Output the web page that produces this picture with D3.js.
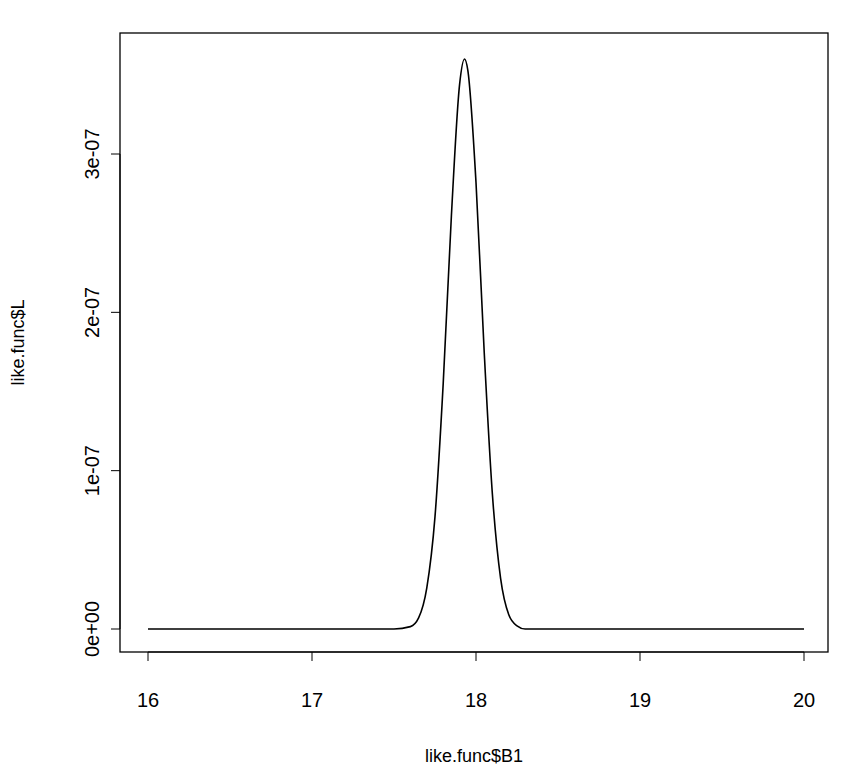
<!DOCTYPE html>
<html><head><meta charset="utf-8">
<script src="https://cdn.jsdelivr.net/npm/d3@7"></script>
<style>body{margin:0;background:#fff}text{font-family:"Liberation Sans",Arial,sans-serif;fill:#000}</style>
</head><body><svg id="c" width="867" height="767"></svg>
<script>
// B1 values and likelihood L
const b1Values = [16, 17.5, 17.6, 17.65, 17.7, 17.75, 17.8, 17.85, 17.9, 17.93, 17.95, 18.0, 18.05, 18.1, 18.15, 18.2, 18.25, 18.3, 20];
const likeValues = [0, 0, 0.015e-7, 0.07e-7, 0.26e-7, 0.71e-7, 1.55e-7, 2.61e-7, 3.44e-7, 3.6e-7, 3.53e-7, 2.82e-7, 1.75e-7, 0.85e-7, 0.32e-7, 0.09e-7, 0.02e-7, 0, 0];
const xTicks = [16, 17, 18, 19, 20];
const yTicks = [0, 1e-7, 2e-7, 3e-7];
const yTickLabels = ["0e+00", "1e-07", "2e-07", "3e-07"];

const svg = d3.select('#c');
const box = {left: 120, right: 828, top: 33, bottom: 652};
const x = d3.scaleLinear().domain([16, 20]).range([148, 804]);
const y = d3.scaleLinear().domain([0, 3e-7]).range([629, 154]);

// curve
const pts = b1Values.map((v, i) => [v, likeValues[i]]);
svg.append('path')
  .attr('d', d3.line().x(d => x(d[0])).y(d => y(d[1])).curve(d3.curveMonotoneX)(pts))
  .attr('fill', 'none').attr('stroke', '#000').attr('stroke-width', 1.6);

// box
svg.append('rect').attr('x', box.left).attr('y', box.top)
  .attr('width', box.right - box.left).attr('height', box.bottom - box.top)
  .attr('fill', 'none').attr('stroke', '#000').attr('stroke-width', 1.3);

// x axis
const gx = svg.append('g');
gx.append('line').attr('x1', x(16)).attr('x2', x(20)).attr('y1', box.bottom).attr('y2', box.bottom).attr('stroke', '#000');
xTicks.forEach(t => {
  gx.append('line').attr('x1', x(t)).attr('x2', x(t)).attr('y1', box.bottom).attr('y2', box.bottom + 9).attr('stroke', '#000');
  gx.append('text').attr('x', x(t)).attr('y', 707).attr('text-anchor', 'middle').attr('font-size', 20).text(t);
});

// y axis
const gy = svg.append('g');
gy.append('line').attr('x1', box.left).attr('x2', box.left).attr('y1', y(0)).attr('y2', y(3e-7)).attr('stroke', '#000');
yTicks.forEach((t, i) => {
  gy.append('line').attr('x1', box.left).attr('x2', box.left - 9).attr('y1', y(t)).attr('y2', y(t)).attr('stroke', '#000');
  gy.append('text').attr('transform', `translate(99,${y(t)}) rotate(-90)`)
    .attr('text-anchor', 'middle').attr('font-size', 20).text(yTickLabels[i]);
});

// titles
svg.append('text').attr('x', (box.left + box.right) / 2).attr('y', 762).attr('text-anchor', 'middle').attr('font-size', 18).text('like.func$B1');
svg.append('text').attr('transform', `translate(24,${(box.top + box.bottom) / 2}) rotate(-90)`)
  .attr('text-anchor', 'middle').attr('font-size', 18).text('like.func$L');
</script></body></html>
